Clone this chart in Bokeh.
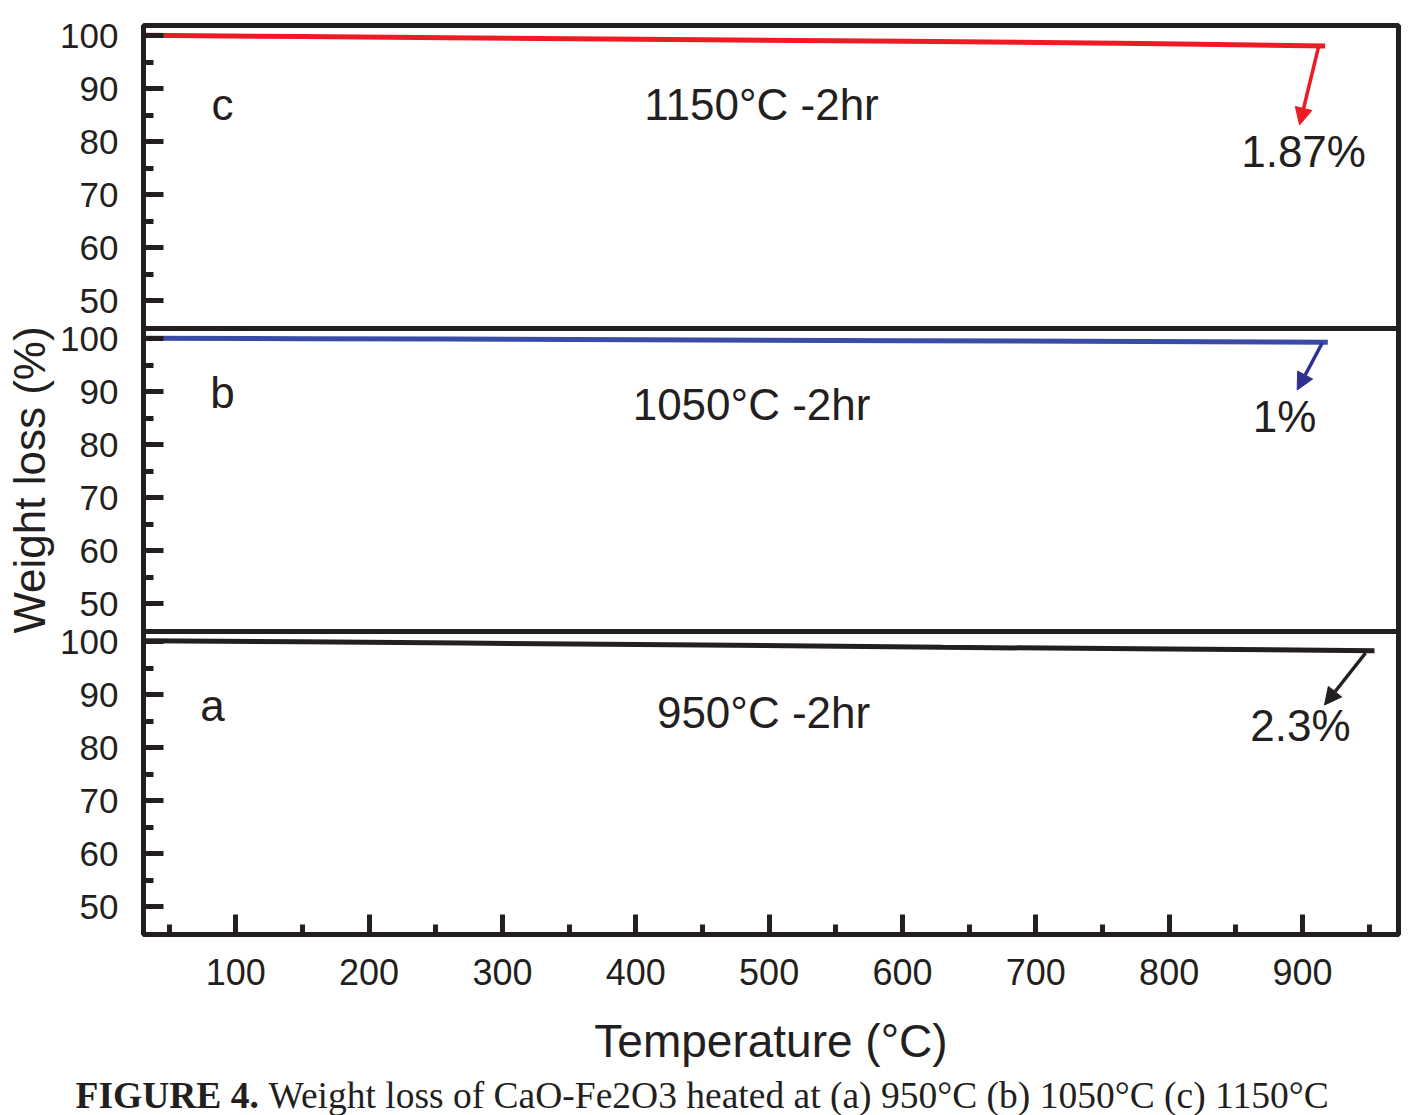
from bokeh.plotting import figure
from bokeh.layouts import column, row
from bokeh.models import Range1d, FixedTicker, Span, Arrow, NormalHead
from bokeh.embed import file_html
from bokeh.resources import INLINE
from bokeh.core.properties import value

# ---------------- data ----------------
temp_a = [31, 150, 270, 450, 630, 800, 954]
weight_a = [100.17, 99.95, 99.73, 99.35, 98.92, 98.6, 98.28]

temp_b = [31, 150, 258, 450, 602, 780, 919]
weight_b = [100.05, 99.98, 99.92, 99.75, 99.6, 99.45, 99.3]

temp_c = [31, 150, 258, 450, 602, 780, 917]
weight_c = [100.05, 99.82, 99.6, 99.22, 98.92, 98.5, 98.05]

x_major = [100, 200, 300, 400, 500, 600, 700, 800, 900]
x_minor = [50, 150, 250, 350, 450, 550, 650, 750, 850, 950]
y_major = [50, 60, 70, 80, 90, 100]
y_minor = [55, 65, 75, 85, 95]

panel_letters = ["a", "b", "c"]
panel_conditions = ["950°C -2hr", "1050°C -2hr", "1150°C -2hr"]
loss_labels = ["2.3%", "1%", "1.87%"]
caption_bold = "FIGURE 4."
caption_text = "Weight loss of CaO-Fe2O3 heated at (a) 950°C (b) 1050°C (c) 1150°C"

# annotation anchors (data units of each panel)
letter_xy = [(82.5, 88.0), (90, 89.9), (90, 86.95)]
cond_xy = [(495.8, 86.6), (486.8, 87.5), (494.3, 86.95)]
loss_xy = [(898.5, 84.25), (886.5, 85.3), (900.8, 78.15)]
arrow_se = [((947.3, 97.85), (916.5, 88.05)),
            ((914.8, 99.17), (896.0, 90.3)),
            ((912.0, 97.85), (897.8, 83.15))]

X_START, X_END = 30.8, 972.0
Y_LO = 44.8
SPAN = 57.1
Y_HI = Y_LO + SPAN

INK = "#231f20"
RED = "#ed1c24"
BLUE = "#3a4ba5"
BLUE_ARROW = "#2e3192"
FONT = "Liberation Sans"

W = 1412
p = figure(width=W, height=1077, output_backend="svg", toolbar_location=None,
           x_range=Range1d(X_START, X_END),
           y_range=Range1d(Y_LO, Y_LO + 3 * SPAN),
           min_border_left=143, min_border_right=14, min_border_top=25,
           min_border_bottom=143)
p.extra_y_ranges = {
    "b": Range1d(Y_LO - SPAN, Y_HI + SPAN),
    "c": Range1d(Y_LO - 2 * SPAN, Y_HI),
}
p.xgrid.visible = False
p.ygrid.visible = False
p.background_fill_color = "white"
p.border_fill_color = "white"
p.outline_line_color = INK
p.outline_line_width = 5
p.outline_line_alpha = 1.0

# x axis
xa = p.xaxis[0]
xa.ticker = FixedTicker(ticks=x_major, minor_ticks=x_minor)
xa.axis_label = "Temperature (°C)"
xa.axis_label_text_font = FONT
xa.axis_label_text_font_size = "46px"
xa.axis_label_text_font_style = "normal"
xa.axis_label_text_color = INK
xa.axis_label_standoff = 27
xa.major_label_text_font = FONT
xa.major_label_text_font_size = "36px"
xa.major_label_text_color = INK
xa.major_label_standoff = 24

# y axis: one axis carrying the ticks of the three stacked panels
ya = p.yaxis[0]
offsets = [0, SPAN, 2 * SPAN]
maj = [round(v + o, 6) for o in offsets for v in y_major]
mnr = [round(v + o, 6) for o in offsets for v in y_minor]
ya.ticker = FixedTicker(ticks=maj, minor_ticks=mnr)
ya.major_label_overrides = {round(v + o, 6): str(v) for o in offsets for v in y_major}
ya.axis_label = "Weight loss (%)"
ya.axis_label_text_font = FONT
ya.axis_label_text_font_size = "44px"
ya.axis_label_text_font_style = "normal"
ya.axis_label_text_color = INK
ya.axis_label_standoff = 3
ya.major_label_text_font = FONT
ya.major_label_text_font_size = "35px"
ya.major_label_text_color = INK
ya.major_label_standoff = 25

for ax in (xa, ya):
    ax.axis_line_color = INK
    ax.axis_line_width = 5
    ax.major_tick_line_color = INK
    ax.minor_tick_line_color = INK
    ax.major_tick_line_width = 5
    ax.minor_tick_line_width = 5
    ax.major_tick_in = 20
    ax.major_tick_out = 0
    ax.minor_tick_in = 10
    ax.minor_tick_out = 0

# panel separators
for loc in (Y_HI, Y_HI + SPAN):
    p.add_layout(Span(location=loc, dimension="width", line_color=INK, line_width=5))

# series
p.line(temp_a, weight_a, line_color=INK, line_width=5)
p.line(temp_b, weight_b, line_color=BLUE, line_width=5, y_range_name="b")
p.line(temp_c, weight_c, line_color=RED, line_width=5, y_range_name="c")

range_names = ["default", "b", "c"]
arrow_colors = [INK, BLUE_ARROW, RED]
for i in range(3):
    rn = range_names[i]
    kw = {} if rn == "default" else {"y_range_name": rn}
    (xs, ys), (xe, ye) = arrow_se[i]
    p.add_layout(Arrow(x_start=xs, y_start=ys, x_end=xe, y_end=ye,
                       line_color=arrow_colors[i], line_width=3.5,
                       end=NormalHead(size=17, line_color=arrow_colors[i],
                                      fill_color=arrow_colors[i], line_width=1),
                       **kw))
    for txt, (tx, ty) in ((panel_letters[i], letter_xy[i]),
                          (panel_conditions[i], cond_xy[i]),
                          (loss_labels[i], loss_xy[i])):
        p.text(x=[tx], y=[ty], text=[txt], text_font=value(FONT),
               text_font_size="44px", text_color=INK, text_align="center",
               text_baseline="alphabetic", **kw)

# caption strip (its own small figure under the chart, no axes, no title)
CAP_H = 38
cap = figure(width=W, height=CAP_H, output_backend="svg", toolbar_location=None,
             x_range=Range1d(0, W), y_range=Range1d(0, CAP_H),
             x_axis_location=None, y_axis_location=None,
             min_border_left=0, min_border_right=0, min_border_top=0,
             min_border_bottom=0, outline_line_color=None)
cap.title = None
cap.grid.visible = False
cap.text(x=[75], y=[20], text=[caption_bold], text_font=value("Liberation Serif"),
         text_font_size="37.5px", text_font_style="bold", text_color=INK,
         text_align="left", text_baseline="alphabetic")
cap.text(x=[268], y=[20], text=[caption_text], text_font=value("Liberation Serif"),
         text_font_size="37.5px", text_color=INK,
         text_align="left", text_baseline="alphabetic")

layout = column(row(p), row(cap), spacing=0)
open("out.html", "w").write(file_html(layout, INLINE))
